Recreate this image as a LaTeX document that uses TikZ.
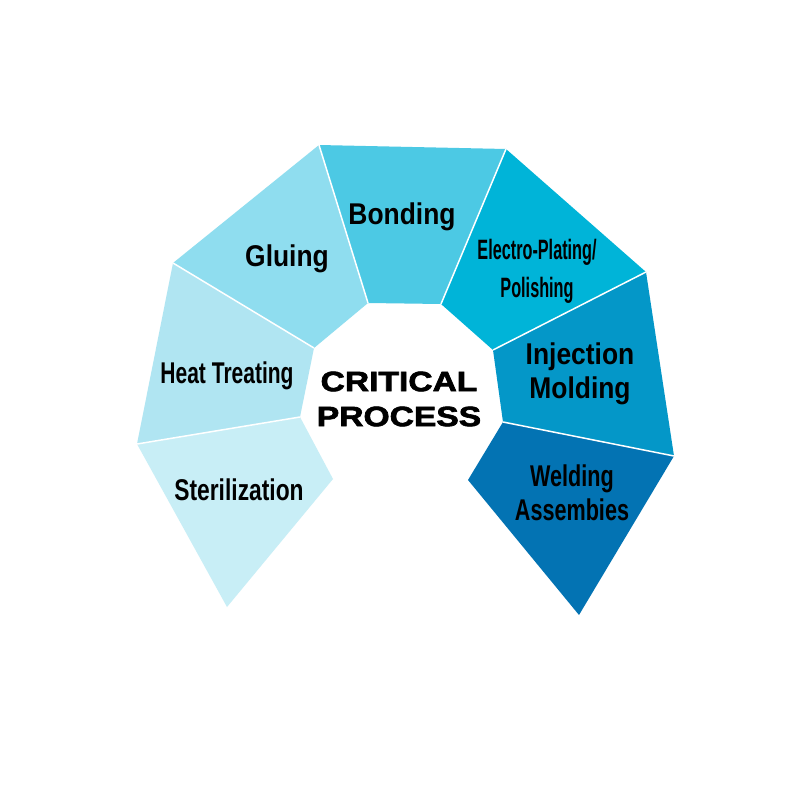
\documentclass[tikz,border=0pt]{standalone}
\usepackage{fontspec}
\setmainfont{Liberation Sans}
\newfontfamily\heavyfont{Liberation Sans}[BoldFeatures={FakeBold=2.2}]
\definecolor{cSter}{HTML}{C8EEF6}
\definecolor{cHeat}{HTML}{B0E5F2}
\definecolor{cGlue}{HTML}{8FDDEF}
\definecolor{cBond}{HTML}{4CC9E4}
\definecolor{cElec}{HTML}{00B4D8}
\definecolor{cInj}{HTML}{0497C8}
\definecolor{cWeld}{HTML}{0373B3}
\tikzset{
  seg/.style={draw=white, line width=1.5pt, line join=round},
  lab/.style={font=\bfseries\fontsize{30}{34}\selectfont, align=center, text=black, inner sep=0pt},
  ctr/.style={font=\heavyfont\bfseries\fontsize{28}{35}\selectfont, align=center, text=black, inner sep=0pt}
}
\newcommand{\nar}[2]{\scalebox{#1}[1]{#2}}
\begin{document}
\begin{tikzpicture}[x=1pt,y=-1pt]
\useasboundingbox[fill=white] (0,0) rectangle (800,800);
% outer points
\coordinate (o1) at (227,607);
\coordinate (o2) at (137,444);
\coordinate (o3) at (173,263);
\coordinate (o4) at (319,145);
\coordinate (o5) at (506,149);
\coordinate (o6) at (646,272);
\coordinate (o7) at (674,456);
\coordinate (o8) at (579,615);
\coordinate (o9) at (468,480);
\coordinate (o0) at (333,479);
% inner points
\coordinate (i1) at (300,417);
\coordinate (i2) at (314,348);
\coordinate (i3) at (368,303);
\coordinate (i4) at (441,304);
\coordinate (i5) at (493,350);
\coordinate (i6) at (503,422);
% segments
\fill[cSter] (o2) -- (i1) -- (o0) -- (o1) -- cycle;
\fill[cHeat] (o2) -- (o3) -- (i2) -- (i1) -- cycle;
\fill[cGlue] (o3) -- (o4) -- (i3) -- (i2) -- cycle;
\fill[cBond] (o4) -- (o5) -- (i4) -- (i3) -- cycle;
\fill[cElec] (o5) -- (o6) -- (i5) -- (i4) -- cycle;
\fill[cInj] (o6) -- (o7) -- (i6) -- (i5) -- cycle;
\fill[cWeld] (i6) -- (o7) -- (o8) -- (o9) -- cycle;
% separators
\draw[seg] (o2) -- (i1);
\draw[seg] (o3) -- (i2);
\draw[seg] (o4) -- (i3);
\draw[seg] (o5) -- (i4);
\draw[seg] (o6) -- (i5);
\draw[seg] (o7) -- (i6);
% labels
\node[lab] (glue) at (287,259) {\nar{0.88}{Gluing}};
\node[lab] (bond) at (402,217) {\nar{0.88}{Bonding}};
\node[lab, font=\bfseries\fontsize{28}{38}\selectfont] (elec) at (537,271) {\nar{0.58}{Electro-Plating/}\\\nar{0.58}{Polishing}};
\node[lab] (heat) at (227,376) {\nar{0.7}{Heat Treating}};
\node[lab] (inj) at (580,374) {\nar{0.88}{Injection}\\\nar{0.88}{Molding}};
\node[lab] (ster) at (239,490) {\nar{0.76}{Sterilization}};
\node[lab] (weld) at (572,493) {\nar{0.72}{Welding}\\\nar{0.72}{Assembies}};
\node[ctr] (crit) at (399,399) {\nar{1.2}{CRITICAL}\\\nar{1.2}{PROCESS}};
\end{tikzpicture}
\end{document}
